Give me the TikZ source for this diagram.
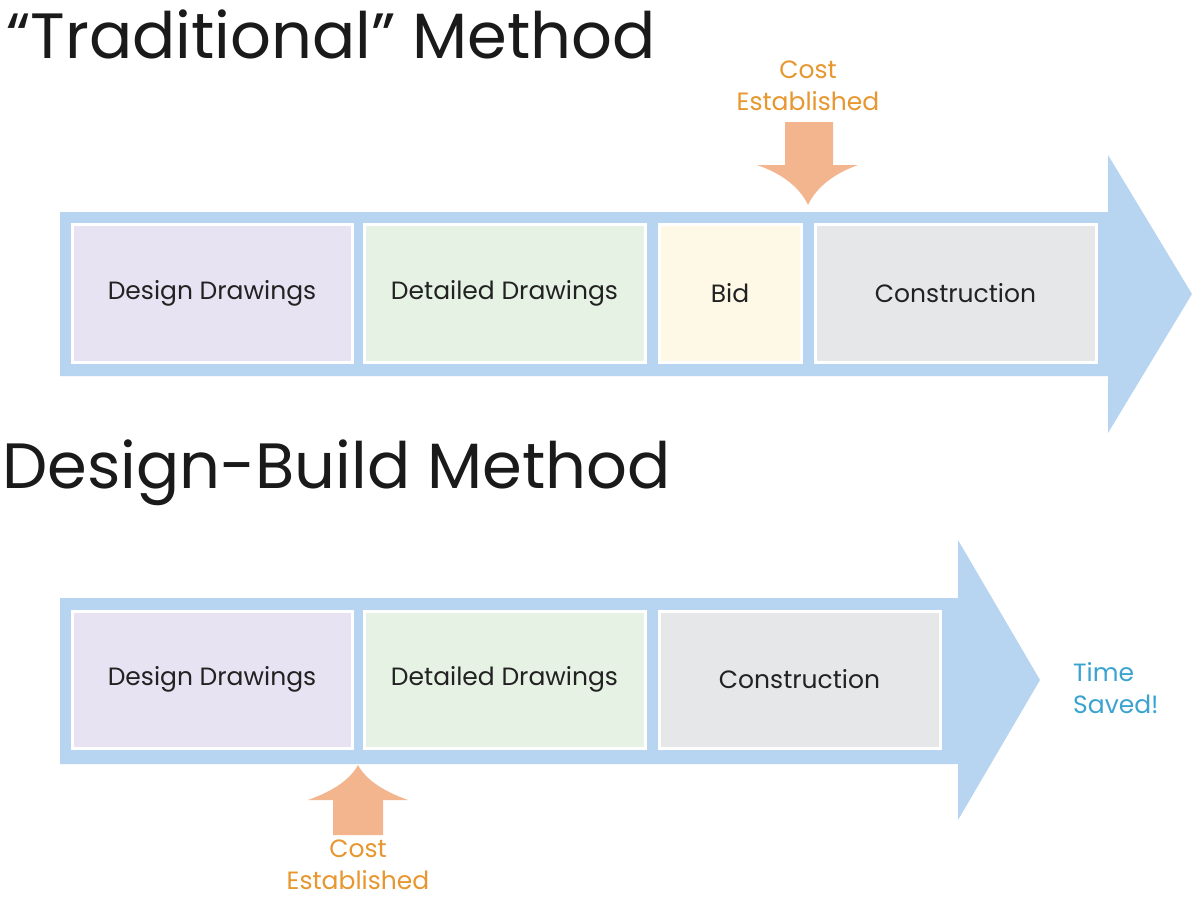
\documentclass[tikz,border=0pt]{standalone}
\usepackage{fontspec}
\setmainfont{Poppins}
\definecolor{arr}{HTML}{B7D5F0}
\definecolor{cdes}{HTML}{E8E3F3}
\definecolor{cdet}{HTML}{E6F2E4}
\definecolor{cbid}{HTML}{FDF9E6}
\definecolor{ccon}{HTML}{E6E7E9}
\definecolor{cost}{HTML}{F2B58E}
\definecolor{ctxt}{HTML}{E8962E}
\definecolor{tsv}{HTML}{3BA3D0}
\begin{document}
\begin{tikzpicture}[x=1pt,y=-1pt,
  phase/.style={draw=white,line width=3pt,inner sep=0pt,font=\fontsize{25}{30}\selectfont\color[HTML]{222222}},
  ttl/.style={anchor=west,inner sep=0pt,font=\fontsize{64}{72}\selectfont\color[HTML]{1A1A1A}},
  lbl/.style={align=center,inner sep=0pt,font=\fontsize{25}{32}\selectfont}]
\useasboundingbox (0,0) rectangle (1192,900);
\fill[white] (0,0) rectangle (1192,900);
\node[ttl] (t1) at (6,34) {“Traditional” Method};
\node[ttl] (t2) at (2,473) {Design-Build Method};
% top arrow
\fill[arr] (60,212) -- (1108,212) -- (1108,155) -- (1192,294) -- (1108,433) -- (1108,376) -- (60,376) -- cycle;
\node[phase,fill=cdes,minimum width=280,minimum height=138] (a1) at (212,293) {Design Drawings};
\node[phase,fill=cdet,minimum width=281,minimum height=138] (a2) at (504.5,293) {Detailed Drawings};
\node[phase,fill=cbid,minimum width=142,minimum height=138] (a3) at (730,293) {Bid};
\node[phase,fill=ccon,minimum width=281,minimum height=138] (a4) at (955.5,293) {Construction};
\fill[cost] (785,122) -- (833,122) -- (833,165) -- (858,165) .. controls (830,175) and (815,190) .. (808,205) .. controls (801,190) and (786,175) .. (757,165) -- (785,165) -- cycle;
\node[lbl,text=ctxt] (c1) at (808,86) {Cost\\Established};
% bottom arrow
\fill[arr] (60,598) -- (958,598) -- (958,540) -- (1040,680) -- (958,820) -- (958,764) -- (60,764) -- cycle;
\node[phase,fill=cdes,minimum width=280,minimum height=137] (b1) at (212,679.5) {Design Drawings};
\node[phase,fill=cdet,minimum width=281,minimum height=137] (b2) at (504.5,679.5) {Detailed Drawings};
\node[phase,fill=ccon,minimum width=281,minimum height=137] (b3) at (799.5,679.5) {Construction};
\fill[cost] (333,835) -- (383,835) -- (383,800) -- (408,800) .. controls (380,790) and (365,778) .. (358,765) .. controls (351,778) and (336,790) .. (308,800) -- (333,800) -- cycle;
\node[lbl,text=ctxt] (c2) at (358,865) {Cost\\Established};
\node[lbl,text=tsv,align=left,anchor=west] (ts) at (1073,688) {Time\\Saved!};
\end{tikzpicture}
\end{document}
